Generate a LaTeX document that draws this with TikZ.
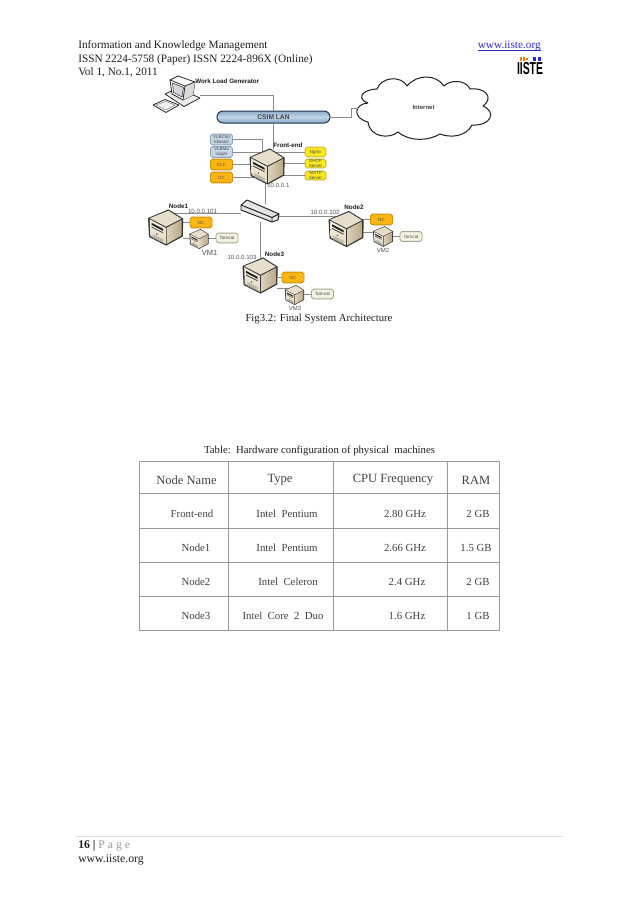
\documentclass[tikz,border=0pt]{standalone}
\usepackage{fontspec}
\setmainfont{Liberation Serif}
\setsansfont{Liberation Sans}
\definecolor{orangefill}{HTML}{FFB612}
\definecolor{orangeedge}{HTML}{C98F10}
\definecolor{yellowfill}{HTML}{FFE91F}
\definecolor{yellowedge}{HTML}{C9BB30}
\definecolor{bluefill}{HTML}{C6D6E6}
\definecolor{blueedge}{HTML}{8CA3BB}
\definecolor{tomfill}{HTML}{F1F2E0}
\definecolor{tomedge}{HTML}{A3A796}
\definecolor{wire}{HTML}{8A8A8A}
\definecolor{tableline}{HTML}{9A9A9A}
\definecolor{ink}{HTML}{1E1E1E}
\definecolor{linkblue}{HTML}{2A2AD0}
\definecolor{srvtop}{HTML}{E6DECA}
\definecolor{srvfront}{HTML}{F2EDDC}
\definecolor{srvfrontb}{HTML}{E4DBC4}
\definecolor{srvsidea}{HTML}{DDD1B8}
\definecolor{srvsideb}{HTML}{B9A98C}
\definecolor{lanedge}{HTML}{1F3550}
\definecolor{lantop}{HTML}{8AAAC9}
\definecolor{lanmid}{HTML}{C4D6E6}
\definecolor{lanbot}{HTML}{7FA2C5}
\tikzset{
  x=0.75pt,y=-0.75pt,
  bodytext/.style={inner sep=0pt,font=\fontsize{8.45}{10}\selectfont,text=ink},
  foottext/.style={inner sep=0pt,font=\fontsize{8.8}{10}\selectfont,text=ink},
  captext/.style={inner sep=0pt,font=\fontsize{8.05}{10}\selectfont,text=ink},
  cellhead/.style={inner sep=0pt,font=\fontsize{9.4}{11}\selectfont,text=ink!85},
  celltext/.style={inner sep=0pt,font=\fontsize{8.1}{10}\selectfont,text=ink!85},
  tag/.style={inner sep=0pt,font=\sffamily\bfseries\fontsize{4.7}{5}\selectfont,text=ink},
  addr/.style={inner sep=0pt,font=\sffamily\fontsize{4.6}{5}\selectfont,text=ink!75},
  vmtag/.style={inner sep=0pt,font=\sffamily\fontsize{4.5}{5}\selectfont,text=ink!75},
  box/.style={rounded corners=1.4pt,line width=0.7pt,inner sep=0pt,align=center,minimum width=16.5pt,minimum height=8pt,
     font=\sffamily\fontsize{3.4}{3.7}\selectfont,text=ink!80},
  orangebox/.style={box,fill=orangefill,draw=orangeedge},
  yellowbox/.style={box,fill=yellowfill,draw=yellowedge},
  bluebox/.style={box,fill=bluefill,draw=blueedge},
  tombox/.style={box,fill=tomfill,draw=tomedge},
  conn/.style={draw=wire,line width=0.6pt},
  grid/.style={draw=tableline,line width=0.55pt},
  anchorbox/.style={inner sep=0pt,minimum width=#1,minimum height=#1},
  server/.pic={
    \begin{scope}[shift={(-17,-17.5)},line join=round]
      \fill[ink!90] (-0.5,8) -- (20,-0.6) -- (34.6,8.6) -- (34.4,26.4) -- (17.5,35.6) -- (0.6,27) -- cycle;
      \fill[srvtop] (1.2,8.2) -- (20,0.7) -- (32.8,8.8) -- (17.4,16.6) -- cycle;
      \shade[top color=srvfront,bottom color=srvfrontb] (1.2,9.4) -- (16.8,17.6) -- (16.8,33.8) -- (1.8,26) -- cycle;
      \shade[left color=srvsidea,right color=srvsideb] (18.2,17.6) -- (33.2,9.8) -- (33.1,25.6) -- (18.2,33.8) -- cycle;
      \fill[ink] (3,12.8) -- (14.5,18.8) -- (14.5,20.8) -- (3,14.8) -- cycle;
      \fill[ink!80] (3,16.4) -- (14.5,22.2) -- (14.5,23.2) -- (3,17.4) -- cycle;
      \fill[ink!65] (8.4,24) circle (0.9);
      \foreach \k in {0,1,2,3}{\draw[ink!50,line width=0.25pt] (4,{24.5+\k*1.1}) -- (14.5,{29.6+\k*1.1});}
    \end{scope}
  },
  computer/.pic={
    \begin{scope}[line join=round,line width=0.55pt]
      \filldraw[fill=gray!12,draw=ink] (153,105) -- (165,99.5) -- (179,105) -- (166,112.5) -- cycle;
      \draw[ink!60,line width=0.3pt] (156,105) -- (166,101.5) -- (175,105) -- (166,110) -- cycle;
      \filldraw[fill=gray!15,draw=ink] (165,94) -- (178,88) -- (200,98) -- (184,106.5) -- cycle;
      \filldraw[fill=gray!6,draw=ink] (170,80) -- (178,76) -- (195,82) -- (193,95) -- (183,100) -- (172,94) -- cycle;
      \fill[gray!30] (184.5,86.5) -- (195,82) -- (193,95) -- (183,100) -- cycle;
      \draw[ink] (170,80) -- (185,86) -- (195,82) (185,86) -- (183,100);
      \filldraw[fill=blue!8!gray!30,draw=ink,line width=0.35pt] (172.5,83) -- (183.5,87.5) -- (182,97) -- (173.5,92.5) -- cycle;
    \end{scope}
  },
  hubswitch/.pic={
    \begin{scope}[line join=round,line width=0.7pt]
      \filldraw[fill=gray!22,draw=ink] (241,205) -- (247,200) -- (279,214) -- (278,220) -- (272,222) -- (241,210) -- cycle;
      \draw[ink] (241,205) -- (272,217.5) -- (279,214) (272,217.5) -- (272,222);
      \draw[white,line width=0.5pt,dash pattern=on 1.2pt off 0.9pt] (245,204.5) -- (265,212);
    \end{scope}
  }
}
\begin{document}
\begin{tikzpicture}
\useasboundingbox[fill=white] (0,0) rectangle (638,903);

% page header and footer
\node[bodytext,anchor=west] (h1) at (78,45.5) {Information and Knowledge Management};
\node[bodytext,anchor=west] (h2) at (78,59.5) {ISSN 2224-5758 (Paper) ISSN 2224-896X (Online)};
\node[bodytext,anchor=west] (h3) at (78,72.5) {Vol 1, No.1, 2011};
\node[bodytext,anchor=east,text=linkblue] (h4) at (541,45.5) {www.iiste.org};
\draw[linkblue,line width=0.4pt] (h4.south west) -- (h4.south east);
\fill[orange] (519.5,57) rectangle (522,60.5);
\fill[orange!70!brown] (523,57) rectangle (525,60.5);
\fill[orange!80!red] (526,57.5) rectangle (528,60);
\fill[blue!70!gray] (533,57) rectangle (535.5,60.5);
\fill[blue!70!gray] (538,57) rectangle (540.5,60.5);
\node[inner sep=0pt,font=\sffamily\bfseries\fontsize{13}{13}\selectfont,anchor=center,xscale=0.6,text=black] (logo) at (530,68.5) {IISTE};
\draw[draw=gray!25,line width=0.5pt] (76,836.5) -- (563,836.5);
\node[foottext,anchor=west] (f1) at (78,846) {\textbf{16 |} \textcolor{gray!80}{P a g e}};
\node[foottext,anchor=west] (f2) at (78,860) {www.iiste.org};

% placeholders for the diagram parts
\node[anchorbox=0pt,minimum width=35.25pt,minimum height=25.5pt] (pc) at (176.5,95) {};
\node[anchorbox=0pt,minimum width=26.25pt,minimum height=26.25pt] (fe) at (267,166.5) {};
\node[anchorbox=0pt,minimum width=26.25pt,minimum height=26.25pt] (n1) at (165.5,227.5) {};
\node[anchorbox=0pt,minimum width=26.25pt,minimum height=26.25pt] (n2) at (346,229) {};
\node[anchorbox=0pt,minimum width=26.25pt,minimum height=26.25pt] (n3) at (260,275.5) {};
\node[anchorbox=0pt,minimum width=14.25pt,minimum height=15pt] (vm1) at (199,239) {};
\node[anchorbox=0pt,minimum width=14.25pt,minimum height=15pt] (vm2) at (383,236.5) {};
\node[anchorbox=0pt,minimum width=14.25pt,minimum height=15pt] (vm3) at (294.5,295) {};
\node[anchorbox=0pt,minimum width=28.5pt,minimum height=16.5pt] (sw) at (260,211) {};
\coordinate (swleft) at (241,213);
\coordinate (swright) at (279,216);
\coordinate (swtop) at (265,204);
\coordinate (feport) at (265,182);
\coordinate (n1port) at (183,238);
\coordinate (n3port) at (277,288);
\coordinate (n2port) at (363,232);
\coordinate (lanright) at (351,117);
\coordinate (cloudport) at (351,108);

% yellow, orange, blue and tomcat boxes
\node[bluebox,minimum height=8pt] (vlbc) at (221.5,139.5) {VLBCoo\\rdinator};
\node[bluebox,minimum height=8pt] (vlbm) at (221.5,152) {VLBMa\\nager};
\node[orangebox] (clc) at (221.5,164.5) {CLC};
\node[orangebox] (cc) at (221.5,177.5) {CC};
\node[yellowbox,minimum width=15.5pt,minimum height=7.2pt] (ngnix) at (315.5,152) {Ngnix};
\node[yellowbox,minimum width=15.5pt,minimum height=6.6pt] (dhcp) at (315.5,163.5) {DHCP\\Server};
\node[yellowbox,minimum width=15.5pt,minimum height=6.6pt] (smtp) at (315.5,175.5) {SMTP\\Server};
\node[orangebox] (nc1) at (201,222.5) {NC};
\node[orangebox] (nc2) at (381.5,219.5) {NC};
\node[orangebox] (nc3) at (293,277.5) {NC};
\node[tombox,minimum height=7.2pt] (tc1) at (227,238) {Tomcat};
\node[tombox,minimum height=7.2pt] (tc2) at (411,236.5) {Tomcat};
\node[tombox,minimum height=7.2pt] (tc3) at (322.5,294) {Tomcat};

% LAN bar
\node[inner sep=0pt,minimum width=84.75pt,minimum height=9pt,rounded corners=4.5pt,draw=lanedge,line width=0.75pt,
      top color=lantop,bottom color=lanbot,middle color=lanmid,
      font=\sffamily\bfseries\fontsize{5}{5}\selectfont,text=ink!85] (lan) at (273.5,117) {CSIM LAN};

% cloud
\node[inner sep=0pt,font=\sffamily\bfseries\fontsize{4.5}{5}\selectfont,text=ink!85] (inet) at (423.5,107.5) {Internet};
\node[inner sep=0pt,minimum width=4pt,minimum height=4pt] (cloudleft) at (358,108) {};
\draw[ink,line width=0.75pt,line join=round]
  (368,103) .. controls (358,100) and (359,90) .. (377,89)
  .. controls (381,77) and (401,75) .. (407,86)
  .. controls (417,74) and (436,74) .. (444,86)
  .. controls (451,79) and (466,80) .. (470,89)
  .. controls (484,87) and (495,97) .. (483,106)
  .. controls (497,112) and (491,126) .. (472,125)
  .. controls (466,137) and (450,138) .. (440,134)
  .. controls (428,141) and (410,142) .. (398,132)
  .. controls (390,139) and (370,138) .. (368,122)
  .. controls (352,118) and (354,104) .. (368,103);

% connectors
\draw[conn] (pc.east) -| (lan.north);
\draw[conn] (lan.south) -- (lan.south |- fe.north);
\draw[conn] (lan.east) -- (lanright) -- (cloudport) -- (cloudleft.center);
\draw[conn] (vlbc.east) -| (262,152);
\draw[conn] (vlbm.east) -- (vlbm.east -| fe.center);
\draw[conn] (clc.east) -- (clc.east -| fe.center);
\draw[conn] (cc.east) -- (cc.east -| fe.center);
\draw[conn] (ngnix.west) -- (ngnix.west -| fe.center);
\draw[conn] (dhcp.west) -- (dhcp.west -| fe.center);
\draw[conn] (smtp.west) -- (smtp.west -| fe.center);
\draw[conn] (feport) -- (swtop);
\draw[conn] (swleft) -- (swleft -| n1.center);
\draw[conn] (swright) -- (swright -| n2.center);
\draw[conn] (sw.south) -- (n3.north);
\draw[conn] (nc1.west) -- (nc1.west -| n1.center);
\draw[conn] (n1port) -- (n1port -| vm1.center);
\draw[conn] (tc1.west) -- (tc1.west -| vm1.center);
\draw[conn] (nc2.west) -- (nc2.west -| n2.center);
\draw[conn] (n2port) -- (n2port -| vm2.center);
\draw[conn] (tc2.west) -- (tc2.west -| vm2.center);
\draw[conn] (nc3.west) -- (nc3.west -| n3.center);
\draw[conn] (n3port) -- (n3port -| vm3.center);
\draw[conn] (tc3.west) -- (tc3.west -| vm3.center);

% equipment drawn over the connectors
\pic at (0,0) {computer};
\pic at (0,0) {hubswitch};
\pic at (fe) {server};
\pic at (n1) {server};
\pic at (n2) {server};
\pic at (n3) {server};
\pic[scale=0.55] at (vm1) {server};
\pic[scale=0.57] at (vm2) {server};
\pic[scale=0.55] at (vm3) {server};

% labels
\node[tag,anchor=west] (wlg) at (195,81) {Work Load Generator};
\node[tag,anchor=west] (felabel) at (273,145) {Front-end};
\node[addr,anchor=west] (fea) at (267,185.5) {10.0.0.1};
\node[tag] (n1l) at (178.5,206) {Node1};
\node[tag] (n2l) at (354,207) {Node2};
\node[tag] (n3l) at (274.5,254) {Node3};
\node[addr] (a1) at (202.5,211) {10.0.0.101};
\node[addr] (a2) at (325,212) {10.0.0.102};
\node[addr] (a3) at (242,257) {10.0.0.103};
\node[inner sep=0pt,font=\sffamily\fontsize{5.6}{6}\selectfont,text=ink!80] (vm1l) at (209.5,252.5) {VM1};
\node[vmtag] (vm2l) at (383,250) {VM2};
\node[vmtag] (vm3l) at (295,308) {VM3};

% captions
\node[captext] (figcap) at (319,319) {Fig3.2: Final System Architecture};
\node[captext] (tabcap) at (319.5,451) {Table:\ \ Hardware configuration of physical\ \ machines};

% table
\draw[grid] (139,461) rectangle (499,630);
\foreach \yy in {493,528,562,596}{\draw[grid] (139,\yy) -- (499,\yy);}
\foreach \xx in {228,333,447}{\draw[grid] (\xx,461) -- (\xx,630);}
\node[cellhead] (c11) at (186.5,480) {Node Name};
\node[cellhead] (c12) at (280,480) {Type};
\node[cellhead] (c13) at (393,480) {CPU Frequency};
\node[cellhead] (c14) at (476,480) {RAM};
\node[celltext] (c21) at (192,513.5) {Front-end};
\node[celltext] (c22) at (287,513.5) {Intel\ \ Pentium};
\node[celltext] (c23) at (405,513.5) {2.80 GHz};
\node[celltext] (c24) at (478,513.5) {2 GB};
\node[celltext] (c31) at (196,547.5) {Node1};
\node[celltext] (c32) at (287,547.5) {Intel\ \ Pentium};
\node[celltext] (c33) at (405,547.5) {2.66 GHz};
\node[celltext] (c34) at (476,547.5) {1.5 GB};
\node[celltext] (c41) at (196,581.5) {Node2};
\node[celltext] (c42) at (288,581.5) {Intel\ \ Celeron};
\node[celltext] (c43) at (407,581.5) {2.4 GHz};
\node[celltext] (c44) at (478,581.5) {2 GB};
\node[celltext] (c51) at (196,615.5) {Node3};
\node[celltext] (c52) at (283,615.5) {Intel\ \ Core\ \ 2\ \ Duo};
\node[celltext] (c53) at (407,615.5) {1.6 GHz};
\node[celltext] (c54) at (478,615.5) {1 GB};
\end{tikzpicture}
\end{document}
